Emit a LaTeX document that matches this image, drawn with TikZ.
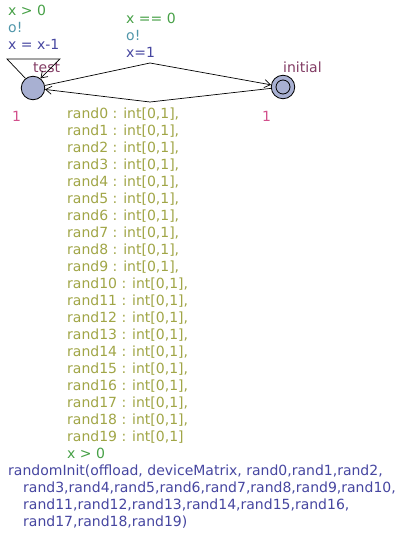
\documentclass[tikz,border=0pt]{standalone}
\usepackage{fontspec}
\setmainfont{DejaVu Sans}
\usetikzlibrary{arrows.meta}
\definecolor{guardc}{RGB}{70,160,70}
\definecolor{syncc}{RGB}{80,150,170}
\definecolor{updc}{RGB}{70,70,160}
\definecolor{selc}{RGB}{160,165,70}
\definecolor{namec}{RGB}{130,60,100}
\definecolor{invc}{RGB}{210,80,140}
\definecolor{locfill}{RGB}{168,176,210}
\begin{document}
\begin{tikzpicture}[x=1pt,y=-1pt,
  font=\fontsize{14}{17}\selectfont,
  lab/.style={anchor=base west, inner sep=0pt},
  loc/.style={circle, draw=black, fill=locfill, line width=0.8pt, minimum size=23.5pt, inner sep=0pt},
  locin/.style={circle, draw=black, line width=0.8pt, minimum size=14pt, inner sep=0pt},
  edge/.style={draw=black, line width=0.7pt, -{Straight Barb[length=6pt,width=8pt]}}]
\useasboundingbox (0,0) rectangle (410,535);
% locations
\node[loc] (test) at (33,88) {};
\node[loc] (init) at (283,87) {};
\node[locin] (initin) at (283,87) {};
\node[lab, text=namec] (ntest) at (33,72) {test};
\node[lab, text=namec] (ninit) at (283,72) {initial};
\node[lab, text=invc] (itest) at (12,121) {1};
\node[lab, text=invc] (iinit) at (262,121) {1};
% self loop
\coordinate (s1) at (7,59);
\coordinate (s2) at (60,59);
\draw[edge] (test.128) -- (s1) -- (s2) -- (test.52);
\node[lab, text=guardc] (g1) at (8,16) {x > 0};
\node[lab, text=syncc] (y1) at (8,33) {o!};
\node[lab, text=updc] (u1) at (8,50) {x = x-1};
% test -> initial
\coordinate (b1) at (150,63);
\draw[edge] (test) -- (b1) -- (init);
\node[lab, text=guardc] (g2) at (126,24) {x == 0};
\node[lab, text=syncc] (y2) at (126,41) {o!};
\node[lab, text=updc] (u2) at (126,58) {x=1};
% initial -> test
\coordinate (b2) at (150,102);
\draw[edge] (init) -- (b2) -- (test);
\foreach \i in {0,...,18} {
  \node[lab, text=selc] (sel\i) at (67,{118+17*\i}) {rand\i\ : int[0,1],};
}
\node[lab, text=selc] (sel19) at (67,441) {rand19 : int[0,1]};
\node[lab, text=guardc] (g3) at (67,458) {x > 0};
\node[lab, text=updc] (u3a) at (8,475) {randomInit(offload, deviceMatrix, rand0,rand1,rand2,};
\node[lab, text=updc] (u3b) at (23,492) {rand3,rand4,rand5,rand6,rand7,rand8,rand9,rand10,};
\node[lab, text=updc] (u3c) at (23,509) {rand11,rand12,rand13,rand14,rand15,rand16,};
\node[lab, text=updc] (u3d) at (23,526) {rand17,rand18,rand19)};
\end{tikzpicture}
\end{document}
